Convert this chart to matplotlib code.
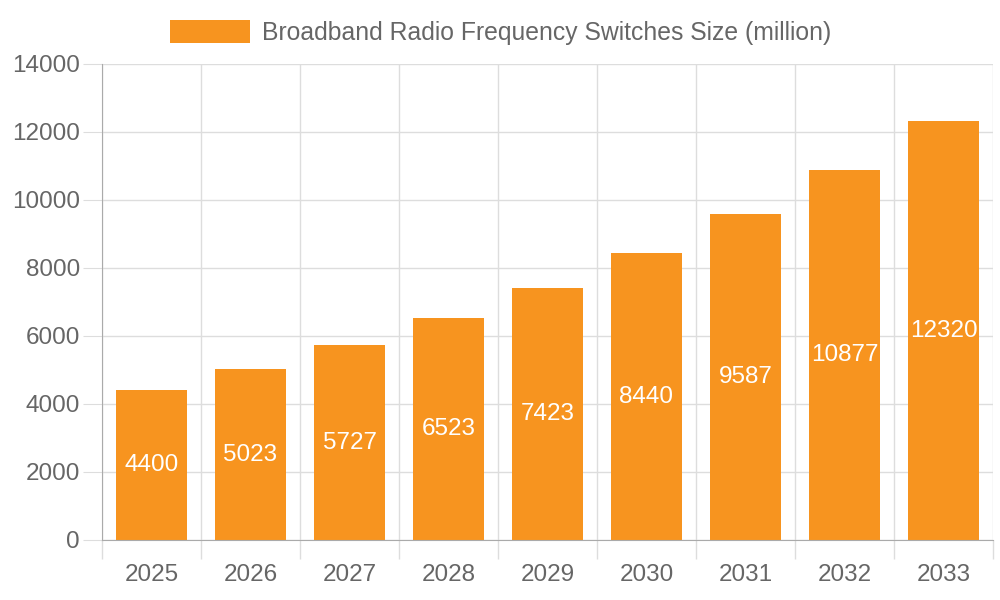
import matplotlib
matplotlib.use("Agg")
import matplotlib.pyplot as plt
from matplotlib.patches import Rectangle

years = ["2025", "2026", "2027", "2028", "2029", "2030", "2031", "2032", "2033"]
values = [4400, 5023, 5727, 6523, 7423, 8440, 9587, 10877, 12320]
series_name = "Broadband Radio Frequency Switches Size (million)"
yticks = [0, 2000, 4000, 6000, 8000, 10000, 12000, 14000]

bar_color = "#F7941F"
text_grey = "#666666"
grid_col = "#DDDDDD"
axis_col = "#AAAAAA"

plt.rcParams['font.family'] = ['Liberation Sans', 'DejaVu Sans']

fig = plt.figure(figsize=(10, 6), dpi=100)
ax = fig.add_axes([0.102, 0.1, 0.891, 476/600])

x = list(range(len(years)))
bars = ax.bar(x, values, width=0.725, color=bar_color, zorder=3)
for xi, v in zip(x, values):
    ax.text(xi, v / 2, str(v), ha='center', va='center', color='white', fontsize=17.5, zorder=4)

ax.set_xlim(-0.5, len(years) - 0.5)
ax.set_ylim(0, 14000)

ax.set_xticks([i - 0.5 for i in range(len(years) + 1)])
ax.set_xticklabels([])
ax.set_xticks(x, minor=True)
ax.set_xticklabels(years, minor=True)
ax.tick_params(axis='x', which='major', length=14, color=grid_col, width=1)
ax.tick_params(axis='x', which='minor', length=0, labelsize=17.5, labelcolor=text_grey, pad=17)

ax.set_yticks(yticks)
ax.set_yticklabels([str(t) for t in yticks])
ax.tick_params(axis='y', length=14, color=grid_col, labelsize=17.5, labelcolor=text_grey, pad=2)

ax.grid(True, which='major', color=grid_col, linewidth=1, zorder=0)
ax.set_axisbelow(True)

for s in ['top', 'right']:
    ax.spines[s].set_visible(False)
ax.spines['left'].set_color(axis_col)
ax.spines['bottom'].set_color(axis_col)
ax.spines['left'].set_zorder(5)
ax.spines['bottom'].set_zorder(5)

fig.add_artist(Rectangle((0.170, 1 - 43/600), 0.080, 23/600, transform=fig.transFigure,
                         facecolor=bar_color, edgecolor='none'))
fig.text(0.262, 1 - 33/600, series_name, ha='left', va='center', fontsize=17.8, color=text_grey)

fig.savefig("out.png", dpi=100)
